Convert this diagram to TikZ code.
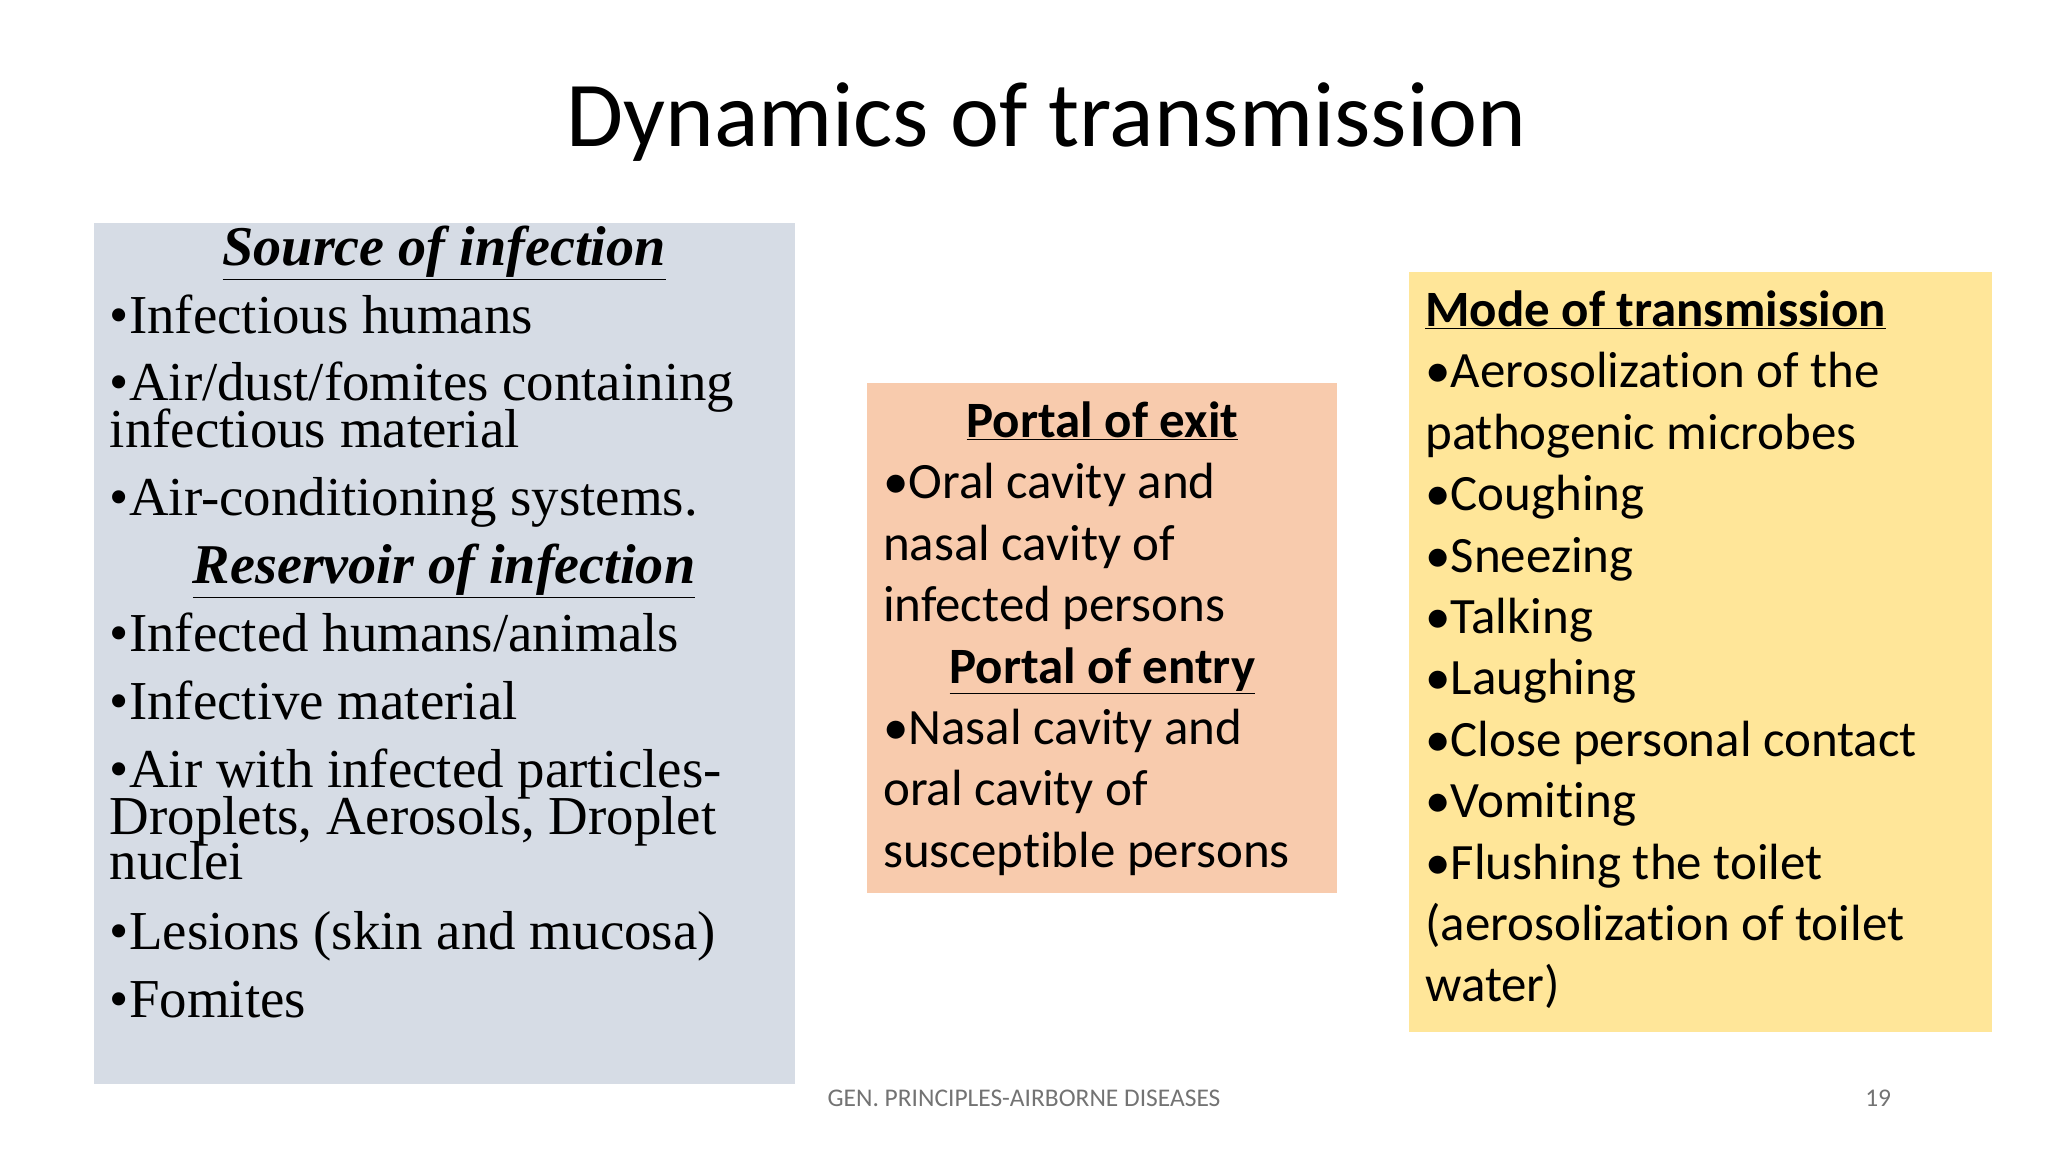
\documentclass[tikz,border=0pt]{standalone}
\usepackage{fontspec}
\setmainfont{Liberation Serif}
\newfontfamily\calfont[Ligatures=NoCommon]{Carlito}
\definecolor{grayb}{HTML}{D6DCE5}
\definecolor{peach}{HTML}{F8CBAD}
\definecolor{yel}{HTML}{FFE699}
\begin{document}
\begin{tikzpicture}[x=1pt,y=-1pt,
 ser/.style={anchor=base west,inner sep=0pt,font=\fontsize{42}{44}\selectfont},
 ca/.style={anchor=base west,inner sep=0pt,font=\calfont\fontsize{39}{42}\selectfont},
 hser/.style={anchor=base,inner sep=0pt,font=\fontsize{43}{45}\selectfont\bfseries\itshape},
 hca/.style={inner sep=0pt,font=\calfont\fontsize{39}{42}\selectfont\bfseries}]
\useasboundingbox (0,0) rectangle (1568,882);
\fill[grayb] (72,171) rectangle (609,830);
\fill[peach] (664,293) rectangle (1024,684);
\fill[yel] (1079,208) rectangle (1525,790);
\node[anchor=base,inner sep=0pt,font=\calfont\fontsize{71}{75}\selectfont] (t) at (801,112) {Dynamics of transmission};
% left
\node[hser] (s1) at (340,203) {\underline{Source of infection}};
\node[ser] (l1) at (84,255) {•Infectious humans};
\node[ser] (l2) at (84,307) {•Air/dust/fomites containing};
\node[ser] (l3) at (84,343) {infectious material};
\node[ser] (l4) at (84,395) {•Air-conditioning systems.};
\node[hser] (s2) at (340,447) {\underline{Reservoir of infection}};
\node[ser] (l5) at (84,499) {•Infected humans/animals};
\node[ser] (l6) at (84,551) {•Infective material};
\node[ser] (l7) at (84,603) {•Air with infected particles-};
\node[ser] (l8) at (84,639) {Droplets, Aerosols, Droplet};
\node[ser] (l9) at (84,673) {nuclei};
\node[ser] (l10) at (84,727) {•Lesions (skin and mucosa)};
\node[ser] (l11) at (84,779) {•Fomites};
% middle
\node[hca,anchor=base] (p1) at (844,335) {\underline{Portal of exit}};
\node[ca] (m1) at (676,382) {•Oral cavity and};
\node[ca] (m2) at (676,429) {nasal cavity of};
\node[ca] (m3) at (676,476) {infected persons};
\node[hca,anchor=base] (p2) at (844,523) {\underline{Portal of entry}};
\node[ca] (m4) at (676,570) {•Nasal cavity and};
\node[ca] (m5) at (676,617) {oral cavity of};
\node[ca] (m6) at (676,664) {susceptible persons};
% right
\node[hca,anchor=base west] (r0) at (1091,250) {\underline{Mode of transmission}};
\node[ca] (r1) at (1091,297) {•Aerosolization of the};
\node[ca] (r2) at (1091,344) {pathogenic microbes};
\node[ca] (r3) at (1091,391) {•Coughing};
\node[ca] (r4) at (1091,438) {•Sneezing};
\node[ca] (r5) at (1091,485) {•Talking};
\node[ca] (r6) at (1091,532) {•Laughing};
\node[ca] (r7) at (1091,579) {•Close personal contact};
\node[ca] (r8) at (1091,626) {•Vomiting};
\node[ca] (r9) at (1091,673) {•Flushing the toilet};
\node[ca] (r10) at (1091,720) {(aerosolization of toilet};
\node[ca] (r11) at (1091,767) {water)};
% footer
\node[anchor=base,inner sep=0pt,text=black!55,font=\calfont\fontsize{19.5}{21}\selectfont] (f) at (784,847) {GEN. PRINCIPLES-AIRBORNE DISEASES};
\node[anchor=base,inner sep=0pt,text=black!55,font=\calfont\fontsize{19.5}{21}\selectfont] (n) at (1438,847) {19};
\end{tikzpicture}
\end{document}
